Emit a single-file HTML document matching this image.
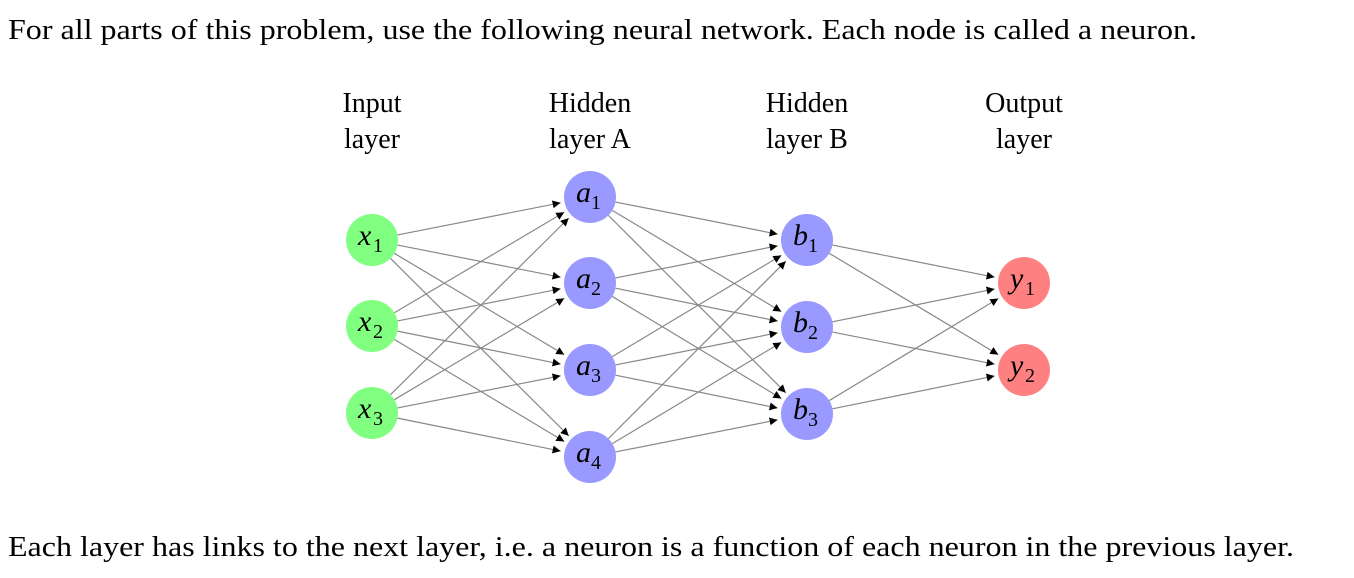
<!DOCTYPE html>
<html><head><meta charset="utf-8"><style>
html,body{margin:0;padding:0;background:#fff;width:1354px;height:578px;overflow:hidden}
svg{display:block}
text{font-family:"Liberation Serif",serif;fill:#000}
</style></head><body>
<svg width="1354" height="578" viewBox="0 0 1354 578" xmlns="http://www.w3.org/2000/svg">
<defs><marker id="ar" viewBox="0 0 10 10" refX="10" refY="5" markerWidth="8" markerHeight="8" orient="auto" markerUnits="userSpaceOnUse"><path d="M0,0 L10,5 L0,10 z" fill="#000"/></marker></defs>
<text x="8" y="39" font-size="28" textLength="1189" lengthAdjust="spacingAndGlyphs">For all parts of this problem, use the following neural network. Each node is called a neuron.</text>
<text x="8" y="556" font-size="28" textLength="1286" lengthAdjust="spacingAndGlyphs">Each layer has links to the next layer, i.e. a neuron is a function of each neuron in the previous layer.</text>
<g font-size="28" text-anchor="middle">
<text x="372" y="112">Input</text><text x="372" y="148">layer</text>
<text x="590" y="112">Hidden</text><text x="590" y="148">layer A</text>
<text x="807" y="112">Hidden</text><text x="807" y="148">layer B</text>
<text x="1024" y="112">Output</text><text x="1024" y="148">layer</text>
</g>
<g id="edges" stroke="#888" stroke-width="1.2" marker-end="url(#ar)"></g>
<g id="nodes"></g>
</svg>
<script>
const X=[[372,240],[372,326],[372,413]],A=[[590,197],[590,283],[590,370],[590,457]],B=[[807,240],[807,327],[807,414]],Y=[[1024,283],[1024,370]];
const ns="http://www.w3.org/2000/svg",R=26;
const eg=document.getElementById('edges'),ng=document.getElementById('nodes');
function link(L1,L2){for(const p of L1)for(const q of L2){const dx=q[0]-p[0],dy=q[1]-p[1],d=Math.hypot(dx,dy);const l=document.createElementNS(ns,'line');l.setAttribute('x1',p[0]+dx/d*R);l.setAttribute('y1',p[1]+dy/d*R);l.setAttribute('x2',q[0]-dx/d*(R+4));l.setAttribute('y2',q[1]-dy/d*(R+4));eg.appendChild(l);}}
link(X,A);link(A,B);link(B,Y);
function nodes(L,col,ch){L.forEach((p,i)=>{const c=document.createElementNS(ns,'circle');c.setAttribute('cx',p[0]);c.setAttribute('cy',p[1]);c.setAttribute('r',R);c.setAttribute('fill',col);ng.appendChild(c);
const t=document.createElementNS(ns,'text');t.setAttribute('x',p[0]-14);t.setAttribute('y',p[1]+5);t.setAttribute('font-size','30');t.setAttribute('font-style','italic');t.textContent=ch;ng.appendChild(t);
const s=document.createElementNS(ns,'text');s.setAttribute('x',p[0]+1);s.setAttribute('y',p[1]+12);s.setAttribute('font-size','20');s.textContent=String(i+1);ng.appendChild(s);});}
nodes(X,'#80ff80','x');nodes(A,'#9999ff','a');nodes(B,'#9999ff','b');nodes(Y,'#ff8080','y');
</script>
</body></html>
